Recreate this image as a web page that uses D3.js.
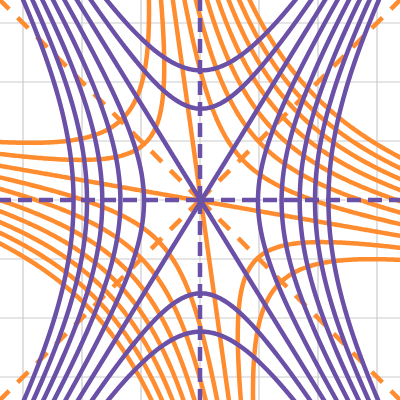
<!DOCTYPE html>
<html>
<head>
<meta charset="utf-8">
<script src="https://cdn.jsdelivr.net/npm/d3@7"></script>
<style>
  html, body { margin: 0; padding: 0; background: #fff; }
  svg { display: block; }
</style>
</head>
<body>
<div id="chart"></div>
<script>
// grid ticks (math units)
const gridTicks = [-3, -2, -1, 0, 1, 2, 3];

// purple family: y^2 - m^2 x^2 = k * step
const purpleSlope = 1.62;
const purpleStep = 2.45;
const purpleLevels = [-5, -4, -3, -2, -1, 0, 1, 2];

// orange family: (y + a x)(x + b y) = k * step
const orangeA = 0.175;
const orangeB = 0.14;
const orangeStep = 0.66;
const orangeLevels = [-2, -1, 0, 1, 2, 3, 4, 5, 6, 7];

// dashed guide lines: purple = axes, orange = diagonals (slopes)
const orangeDiagonals = [1, -1];

const width = 400, height = 400;
const purple = "#6a50a7", orange = "#ff8c2e";

const x = d3.scaleLinear().domain([-3.39, 3.39]).range([0, width]);
const y = d3.scaleLinear().domain([-3.39, 3.39]).range([height, 0]);

const svg = d3.select("#chart").append("svg")
    .attr("width", width)
    .attr("height", height);

// grid
svg.append("g")
    .attr("stroke", "#ccc")
    .attr("stroke-width", 1.2)
  .selectAll("line")
  .data(gridTicks)
  .join("line")
    .attr("x1", d => x(d)).attr("x2", d => x(d))
    .attr("y1", 0).attr("y2", height);
svg.append("g")
    .attr("stroke", "#ccc")
    .attr("stroke-width", 1.2)
  .selectAll("line")
  .data(gridTicks)
  .join("line")
    .attr("y1", d => y(d)).attr("y2", d => y(d))
    .attr("x1", 0).attr("x2", width);

// sampled field for contours, slightly larger than the view
const cell = 2, pad = 12;
const n = Math.ceil((width + 2 * pad) / cell) + 1;
function field(f) {
  const values = new Float64Array(n * n);
  for (let j = 0; j < n; ++j) {
    for (let i = 0; i < n; ++i) {
      const u = x.invert(-pad + i * cell);
      const v = y.invert(-pad + j * cell);
      values[j * n + i] = f(u, v);
    }
  }
  return values;
}
const path = d3.geoPath(d3.geoIdentity().scale(cell).translate([-pad, -pad]));

function drawFamily(f, levels, step, color) {
  const contours = d3.contours().size([n, n])
      .thresholds(levels.map(k => k * step + 1e-9))
      (field(f));
  svg.append("g")
      .attr("fill", "none")
      .attr("stroke", color)
      .attr("stroke-width", 4.5)
      .attr("stroke-linejoin", "round")
    .selectAll("path")
    .data(contours)
    .join("path")
      .attr("d", path);
}

// orange dashed diagonals
svg.append("g")
    .attr("stroke", orange)
    .attr("stroke-width", 4.5)
    .attr("stroke-dasharray", "15,12")
  .selectAll("line")
  .data(orangeDiagonals)
  .join("line")
    .attr("x1", x(0)).attr("y1", y(0))
    .attr("x2", d => x(-3.5)).attr("y2", d => y(-3.5 * d))
    .clone()
    .attr("x2", d => x(3.5)).attr("y2", d => y(3.5 * d));

drawFamily((u, v) => (v + orangeA * u) * (u + orangeB * v), orangeLevels, orangeStep, orange);
drawFamily((u, v) => v * v - purpleSlope * purpleSlope * u * u, purpleLevels, purpleStep, purple);

// purple dashed axes
const axes = svg.append("g")
    .attr("stroke", purple)
    .attr("stroke-width", 4.5)
    .attr("stroke-dasharray", "14,7");
axes.append("line").attr("x1", x(0)).attr("x2", 0).attr("y1", y(0)).attr("y2", y(0));
axes.append("line").attr("x1", x(0)).attr("x2", width).attr("y1", y(0)).attr("y2", y(0));
axes.append("line").attr("x1", x(0)).attr("x2", x(0)).attr("y1", y(0)).attr("y2", 0);
axes.append("line").attr("x1", x(0)).attr("x2", x(0)).attr("y1", y(0)).attr("y2", height);
</script>
</body>
</html>
